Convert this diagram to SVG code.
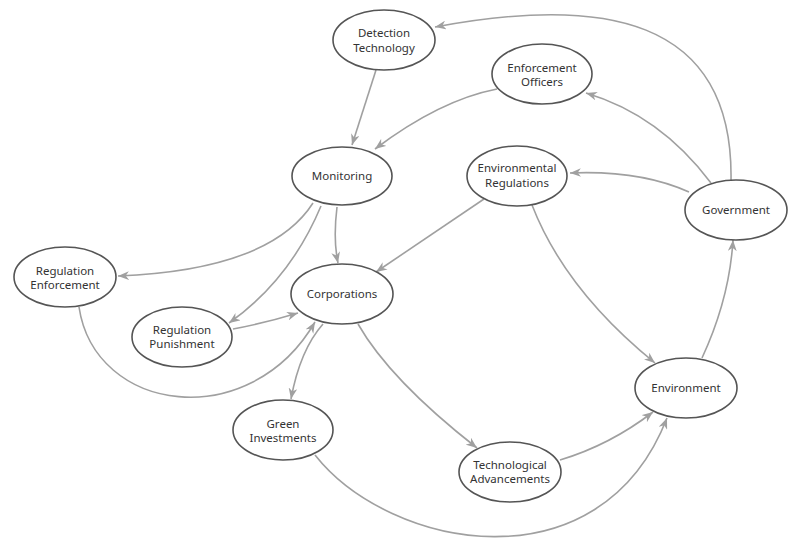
<svg xmlns="http://www.w3.org/2000/svg" width="800" height="544" viewBox="0 0 800 544">
<style>
.n ellipse{fill:#fff;stroke:#555;stroke-width:1.6}
.n text{font-family:"Comic Sans MS","Noto Sans","DejaVu Sans",sans-serif;font-size:11.5px;fill:#333;text-anchor:middle}
.e path{fill:none;stroke:#a0a0a0;stroke-width:1.6;marker-end:url(#arr)}
</style>
<defs>
<marker id="arr" viewBox="0 0 10 8" refX="10" refY="4" markerWidth="11" markerHeight="9" markerUnits="userSpaceOnUse" orient="auto">
<path d="M0,0 L10,4 L0,8 L3,4 Z" fill="#a0a0a0"/>
</marker>
</defs>
<rect width="800" height="544" fill="#fff"/>
<g class="e" id="connectors">
<path d="M731,181 C734,15 600,-4 435,27"/>
<path d="M711,183 Q660,115 586,93"/>
<path d="M689,192 Q640,170 570,173"/>
<path d="M376,70 L352,145"/>
<path d="M497,89 Q440,100 375,149"/>
<path d="M484,199 L376,272"/>
<path d="M532,205 Q565,290 655,363"/>
<path d="M702,358 C715,330 730,290 733,240"/>
<path d="M313,203 Q270,270 118,276"/>
<path d="M321,206 Q290,280 229,323"/>
<path d="M337,207 Q333,240 338,263"/>
<path d="M233,329 Q265,323 298,313"/>
<path d="M79,307 C95,414 250,434 315,322"/>
<path d="M323,324 Q300,350 291,399"/>
<path d="M358,324 Q390,380 477,448"/>
<path d="M560,460 Q610,445 653,412"/>
<path d="M315,455 C390,550 600,590 667,418"/>
</g>
<g class="n" id="detection-technology"><ellipse cx="384" cy="40" rx="51" ry="30"/><text x="384" y="37">Detection</text><text x="384" y="52">Technology</text></g>
<g class="n" id="enforcement-officers"><ellipse cx="542" cy="74" rx="50" ry="30"/><text x="542" y="72">Enforcement</text><text x="542" y="86">Officers</text></g>
<g class="n" id="monitoring"><ellipse cx="342" cy="176" rx="50" ry="29"/><text x="342" y="180">Monitoring</text></g>
<g class="n" id="environmental-regulations"><ellipse cx="517" cy="176" rx="50" ry="30"/><text x="517" y="172">Environmental</text><text x="517" y="187">Regulations</text></g>
<g class="n" id="government"><ellipse cx="736" cy="210" rx="51" ry="30"/><text x="736" y="214">Government</text></g>
<g class="n" id="regulation-enforcement"><ellipse cx="65" cy="277" rx="51" ry="30"/><text x="65" y="275">Regulation</text><text x="65" y="289">Enforcement</text></g>
<g class="n" id="corporations"><ellipse cx="342" cy="294" rx="51" ry="30"/><text x="342" y="298">Corporations</text></g>
<g class="n" id="regulation-punishment"><ellipse cx="182" cy="337" rx="50" ry="30"/><text x="182" y="334">Regulation</text><text x="182" y="348">Punishment</text></g>
<g class="n" id="environment"><ellipse cx="686" cy="388" rx="51" ry="30"/><text x="686" y="392">Environment</text></g>
<g class="n" id="green-investments"><ellipse cx="283" cy="430" rx="50" ry="30"/><text x="283" y="428">Green</text><text x="283" y="442">Investments</text></g>
<g class="n" id="technological-advancements"><ellipse cx="510" cy="472" rx="51" ry="30"/><text x="510" y="469">Technological</text><text x="510" y="483">Advancements</text></g>
</svg>
